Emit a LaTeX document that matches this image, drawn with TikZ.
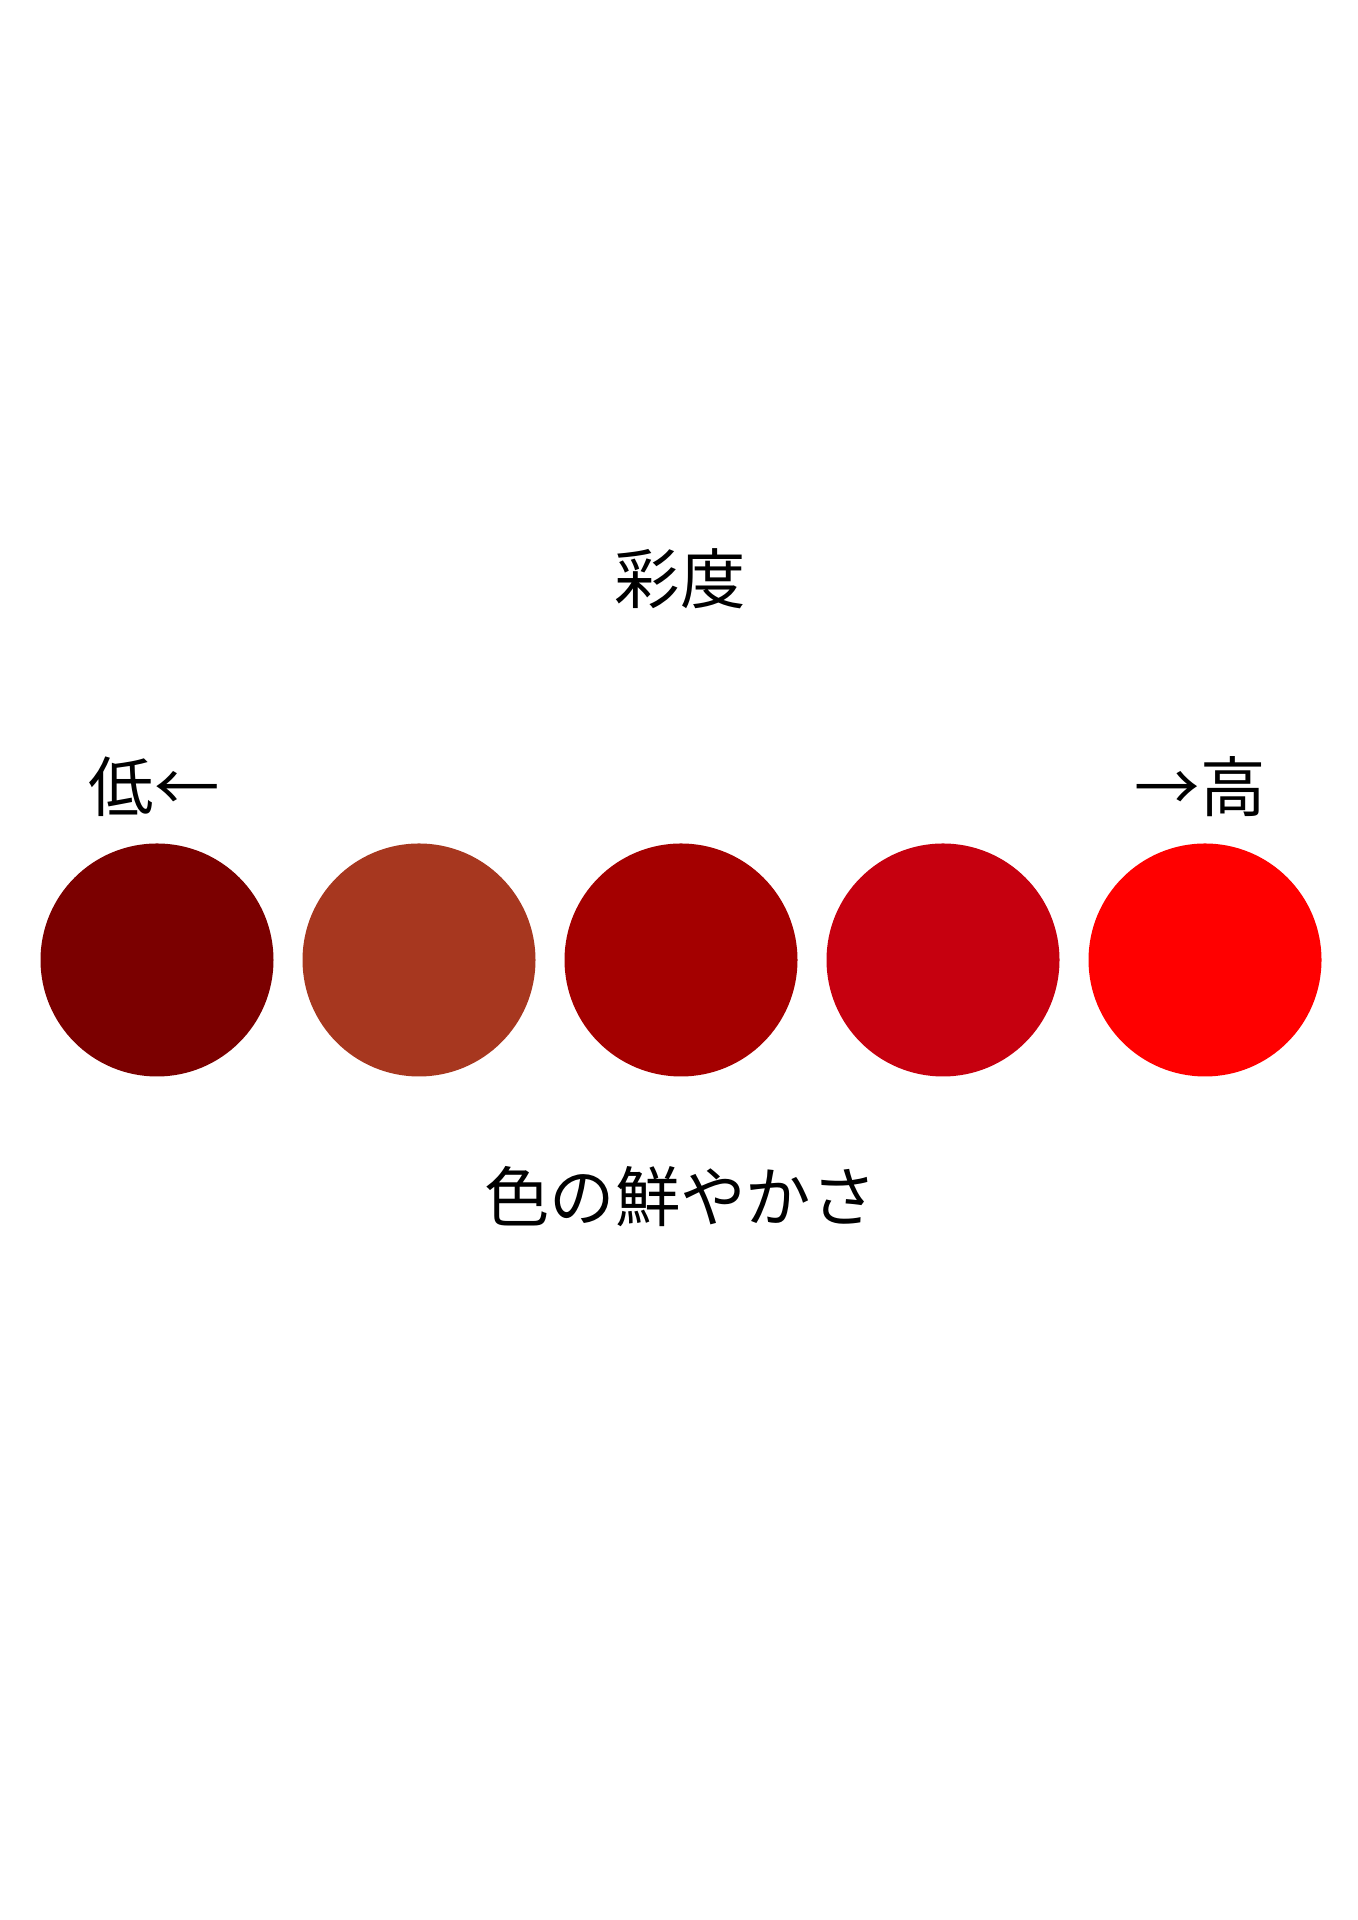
\documentclass[tikz,border=0pt]{standalone}
\usepackage{fontspec}
\setmainfont{Noto Sans CJK JP}
\usepackage{tikz}
\definecolor{mzqqqq}{rgb}{0.482,0.,0.}
\definecolor{ttccbb}{rgb}{0.655,0.216,0.122}
\definecolor{rrqqqq}{rgb}{0.643,0.,0.}
\definecolor{ssqqff}{rgb}{0.776,0.,0.059}
\definecolor{ffqqqq}{rgb}{1.,0.,0.}

\begin{document}
\begin{tikzpicture}[line cap=round,line join=round,x=1.0cm,y=1.0cm,font=\fontsize{18.6pt}{22pt}\selectfont]
\clip(0.,0.) rectangle (13.58,19.2);
\fill [color=mzqqqq] (1.57,9.6) circle (1.165cm);
\fill [color=ttccbb] (4.19,9.6) circle (1.165cm);
\fill [color=rrqqqq] (6.81,9.6) circle (1.165cm);
\fill [color=ssqqff] (9.43,9.6) circle (1.165cm);
\fill [color=ffqqqq] (12.05,9.6) circle (1.165cm);
\node (title) at (6.8,13.41) {彩度};
\node (low) at (1.54,11.33) {低←};
\node (high) at (12.0,11.33) {→高};
\node (caption) at (6.805,7.23) {色の鮮やかさ};
\end{tikzpicture}
\end{document}
